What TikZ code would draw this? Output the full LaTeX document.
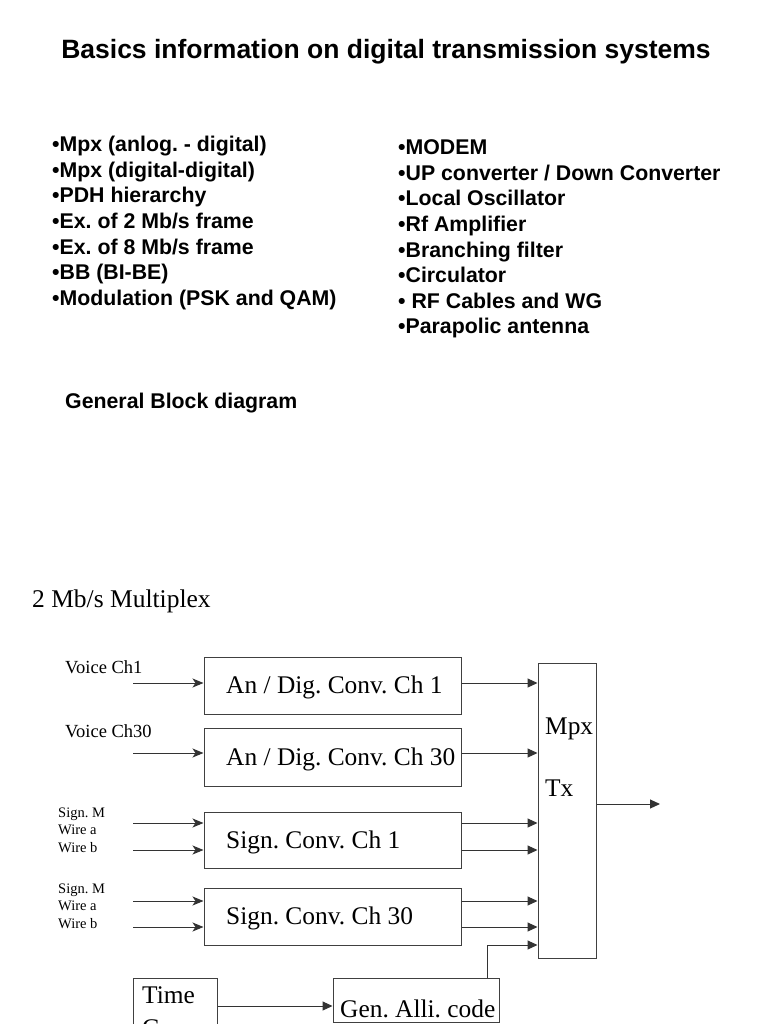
\documentclass[tikz,border=0pt]{standalone}
\usepackage{fontspec}
\setmainfont{Liberation Serif}
\newfontfamily\sansf{Liberation Sans}
\usetikzlibrary{arrows.meta}
\frenchspacing
\begin{document}
\frenchspacing
\begin{tikzpicture}[x=1pt,y=-1pt,
  ttl/.style={font=\sansf\bfseries\fontsize{26.5}{30}\selectfont, inner sep=0pt, anchor=base},
  item/.style={font=\sansf\bfseries\fontsize{21.3}{25}\selectfont, inner sep=0pt, anchor=base west},
  blk/.style={draw=black!75, line width=1pt, inner sep=0pt},
  btxt/.style={font=\fontsize{25.4}{30}\selectfont, inner sep=0pt, anchor=base west},
  lbl/.style={font=\fontsize{18.5}{22}\selectfont, inner sep=0pt, anchor=base west},
  slbl/.style={font=\fontsize{14.5}{17}\selectfont, inner sep=0pt, anchor=base west},
  arrS/.style={draw=black!80, line width=1pt, -{Stealth[length=11pt,width=9pt,inset=3pt]}},
  arrT/.style={draw=black!80, line width=1pt, -{Triangle[length=10pt,width=9pt]}},
  ln/.style={draw=black!80, line width=1pt}]
\useasboundingbox (0,0) rectangle (768,1024);
\clip (0,0) rectangle (768,1024);
\fill[white] (0,0) rectangle (768,1024);

% title and lists
\node[ttl] (title) at (386,59) {Basics information on digital transmission systems};

\node[item] (l1) at (52,152) {•Mpx (anlog. - digital)};
\node[item] (l2) at (52,177.5) {•Mpx (digital-digital)};
\node[item] (l3) at (52,203) {•PDH hierarchy};
\node[item] (l4) at (52,228.5) {•Ex. of 2 Mb/s frame};
\node[item] (l5) at (52,254) {•Ex. of 8 Mb/s frame};
\node[item] (l6) at (52,279.5) {•BB (BI-BE)};
\node[item] (l7) at (52,305) {•Modulation (PSK and QAM)};

\node[item] (r1) at (398,155) {•MODEM};
\node[item] (r2) at (398,180.5) {•UP converter / Down Converter};
\node[item] (r3) at (398,206) {•Local Oscillator};
\node[item] (r4) at (398,231.5) {•Rf Amplifier};
\node[item] (r5) at (398,257) {•Branching filter};
\node[item] (r6) at (398,282.5) {•Circulator};
\node[item] (r7) at (398,308) {• RF Cables and WG};
\node[item] (r8) at (398,333.5) {•Parapolic antenna};

\node[item] (gbd) at (65,408) {General Block diagram};

\node[font=\fontsize{25.5}{30}\selectfont, inner sep=0pt, anchor=base west] (mux) at (32,607) {2 Mb/s Multiplex};

% blocks
\node[blk, minimum width=257pt, minimum height=57pt] (b1) at (332.5,685.5) {};
\node[blk, minimum width=257pt, minimum height=58pt] (b2) at (332.5,757) {};
\node[blk, minimum width=257pt, minimum height=56pt] (b3) at (332.5,840) {};
\node[blk, minimum width=257pt, minimum height=57pt] (b4) at (332.5,916.5) {};
\node[blk, minimum width=58pt, minimum height=295pt] (mpx) at (567,810.5) {};
\node[blk, minimum width=84pt, minimum height=92pt] (tg) at (175,1024) {};
\node[blk, minimum width=166pt, minimum height=44pt] (ga) at (416,1000) {};

\node[btxt] (t1) at (226,693) {An / Dig. Conv. Ch 1};
\node[btxt] (t2) at (226,765) {An / Dig. Conv. Ch 30};
\node[btxt] (t3) at (226,848) {Sign. Conv. Ch 1};
\node[btxt] (t4) at (226,924.5) {Sign. Conv. Ch 30};
\node[btxt] (tm1) at (545,734) {Mpx};
\node[btxt] (tm2) at (545,796) {Tx};
\node[btxt] (ttg1) at (142,1003) {Time};
\node[btxt] (ttg2) at (142,1036) {Gen};
\node[btxt] (tga) at (340,1017) {Gen. Alli. code};

% input labels
\node[lbl] (vc1) at (65,673) {Voice Ch1};
\node[lbl] (vc30) at (65,737) {Voice Ch30};
\node[slbl] (sa1) at (58,817) {Sign. M};
\node[slbl] (sa2) at (58,834.5) {Wire a};
\node[slbl] (sa3) at (58,852) {Wire b};
\node[slbl] (sb1) at (58,893) {Sign. M};
\node[slbl] (sb2) at (58,910.5) {Wire a};
\node[slbl] (sb3) at (58,928) {Wire b};

% connectors
\coordinate (v1) at (133,683);
\coordinate (v2) at (133,753);
\coordinate (s1a) at (133,823);
\coordinate (s1b) at (133,850);
\coordinate (s4a) at (133,901);
\coordinate (s4b) at (133,927);
\coordinate (out) at (660,804);
\coordinate (tgy) at (217,1006);
\coordinate (gx) at (487,945);

\draw[arrS] (v1) -- (b1.west |- v1);
\draw[arrS] (v2) -- (b2.west |- v2);
\draw[arrS] (s1a) -- (b3.west |- s1a);
\draw[arrS] (s1b) -- (b3.west |- s1b);
\draw[arrS] (s4a) -- (b4.west |- s4a);
\draw[arrS] (s4b) -- (b4.west |- s4b);

\draw[arrT] (b1.east |- v1) -- (mpx.west |- v1);
\draw[arrT] (b2.east |- v2) -- (mpx.west |- v2);
\draw[arrT] (b3.east |- s1a) -- (mpx.west |- s1a);
\draw[arrT] (b3.east |- s1b) -- (mpx.west |- s1b);
\draw[arrT] (b4.east |- s4a) -- (mpx.west |- s4a);
\draw[arrT] (b4.east |- s4b) -- (mpx.west |- s4b);
\draw[arrT] (ga.north -| gx) -- (gx) -- (mpx.west |- gx);
\draw[arrT] (mpx.east |- out) -- (out);
\draw[arrT] (tg.east |- tgy) -- (ga.west |- tgy);
\end{tikzpicture}
\end{document}
